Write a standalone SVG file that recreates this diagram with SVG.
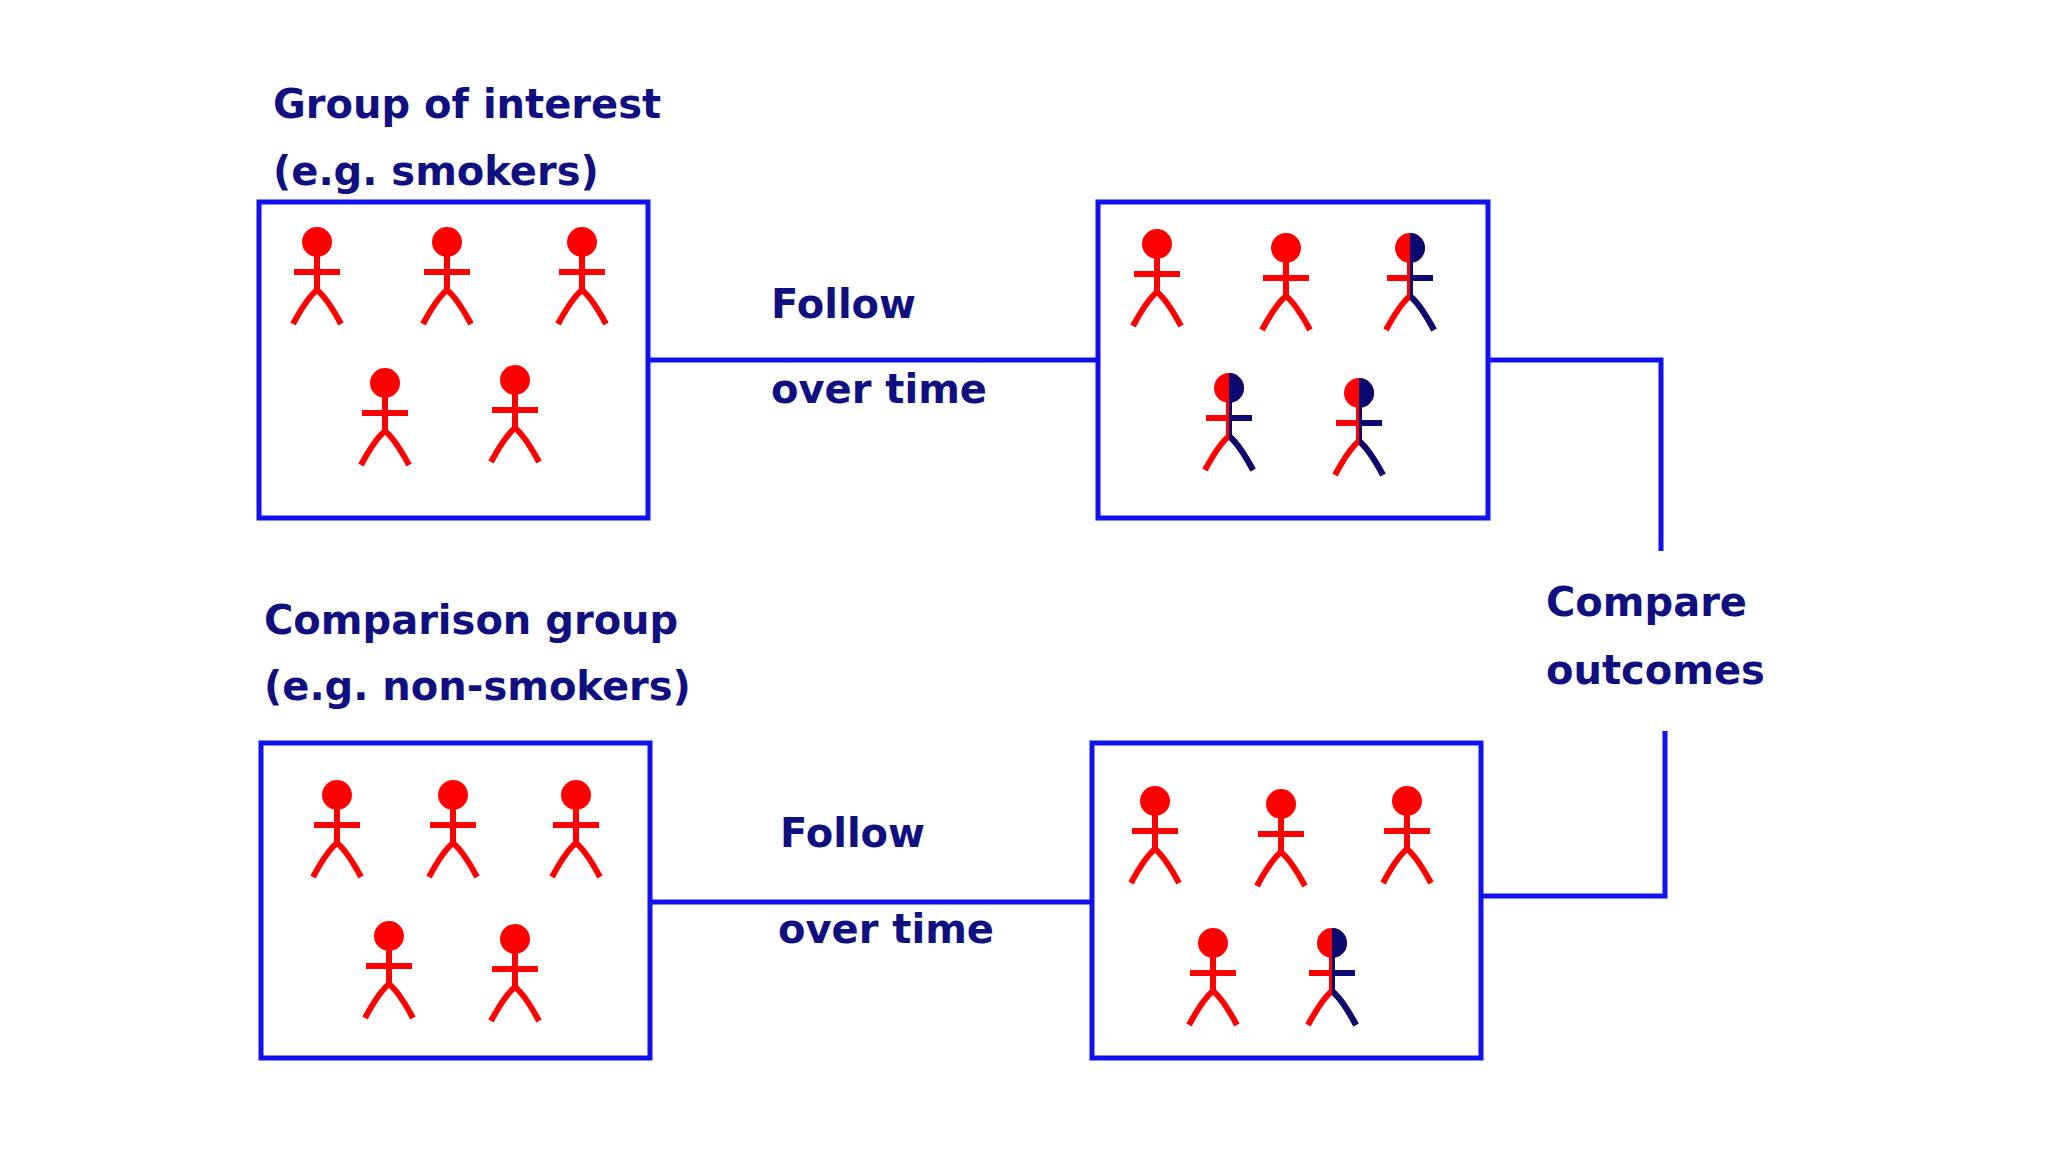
<svg xmlns="http://www.w3.org/2000/svg" xmlns:xlink="http://www.w3.org/1999/xlink" width="2048" height="1152" viewBox="0 0 2048 1152">
<style>
.box{fill:none;stroke:#1010f0;stroke-width:5}
.ln{fill:none;stroke:#1010f0;stroke-width:5}
.t{font-family:"DejaVu Sans","Liberation Sans",sans-serif;font-weight:bold;font-size:40px;fill:#101080}
</style>
<defs>
<clipPath id="rc" clipPathUnits="userSpaceOnUse"><rect x="0" y="-30" width="40" height="130"/></clipPath>
<g id="fig"><circle r="15" stroke="none"/><path fill="none" stroke-width="6" d="M0,12 V50 M-23,30 H23 M0,48 Q-10,56 -24,82 M0,48 Q10,56 24,82"/></g>
<g id="red"><use xlink:href="#fig" href="#fig" fill="#ff0000" stroke="#ff0000"/></g>
<g id="half"><use xlink:href="#fig" href="#fig" fill="#ff0000" stroke="#ff0000"/><use xlink:href="#fig" href="#fig" fill="#0a0a70" stroke="#0a0a70" clip-path="url(#rc)"/></g>
</defs>
<rect width="2048" height="1152" fill="#fff"/>
<g id="connectors">
<path class="ln" d="M648,360 H1098"/>
<path class="ln" d="M650,902 H1092"/>
<path class="ln" d="M1488,360 H1661 V551"/>
<path class="ln" d="M1481,896 H1665 V731"/>
</g>
<g id="tl">
<rect class="box" x="259" y="202" width="389" height="316"/>
<use href="#red" xlink:href="#red" x="317" y="242"/><use href="#red" xlink:href="#red" x="447" y="242"/><use href="#red" xlink:href="#red" x="582" y="242"/><use href="#red" xlink:href="#red" x="385" y="383"/><use href="#red" xlink:href="#red" x="515" y="380"/>
</g>
<g id="tr">
<rect class="box" x="1098" y="202" width="390" height="316"/>
<use href="#red" xlink:href="#red" x="1157" y="244"/><use href="#red" xlink:href="#red" x="1286" y="248"/><use href="#half" xlink:href="#half" x="1410" y="248"/><use href="#half" xlink:href="#half" x="1229" y="388"/><use href="#half" xlink:href="#half" x="1359" y="393"/>
</g>
<g id="bl">
<rect class="box" x="261" y="743" width="389" height="315"/>
<use href="#red" xlink:href="#red" x="337" y="795"/><use href="#red" xlink:href="#red" x="453" y="795"/><use href="#red" xlink:href="#red" x="576" y="795"/><use href="#red" xlink:href="#red" x="389" y="936"/><use href="#red" xlink:href="#red" x="515" y="939"/>
</g>
<g id="br">
<rect class="box" x="1092" y="743" width="389" height="315"/>
<use href="#red" xlink:href="#red" x="1155" y="801"/><use href="#red" xlink:href="#red" x="1281" y="804"/><use href="#red" xlink:href="#red" x="1407" y="801"/><use href="#red" xlink:href="#red" x="1213" y="943"/><use href="#half" xlink:href="#half" x="1332" y="943"/>
</g>
<g id="labels">
<text class="t" x="273" y="118">Group of interest</text>
<text class="t" x="273" y="185">(e.g. smokers)</text>
<text class="t" x="771" y="318">Follow</text>
<text class="t" x="771" y="403">over time</text>
<text class="t" x="264" y="634">Comparison group</text>
<text class="t" x="264" y="700">(e.g. non-smokers)</text>
<text class="t" x="780" y="847">Follow</text>
<text class="t" x="778" y="943">over time</text>
<text class="t" x="1546" y="616">Compare</text>
<text class="t" x="1546" y="684">outcomes</text>
</g>
</svg>
